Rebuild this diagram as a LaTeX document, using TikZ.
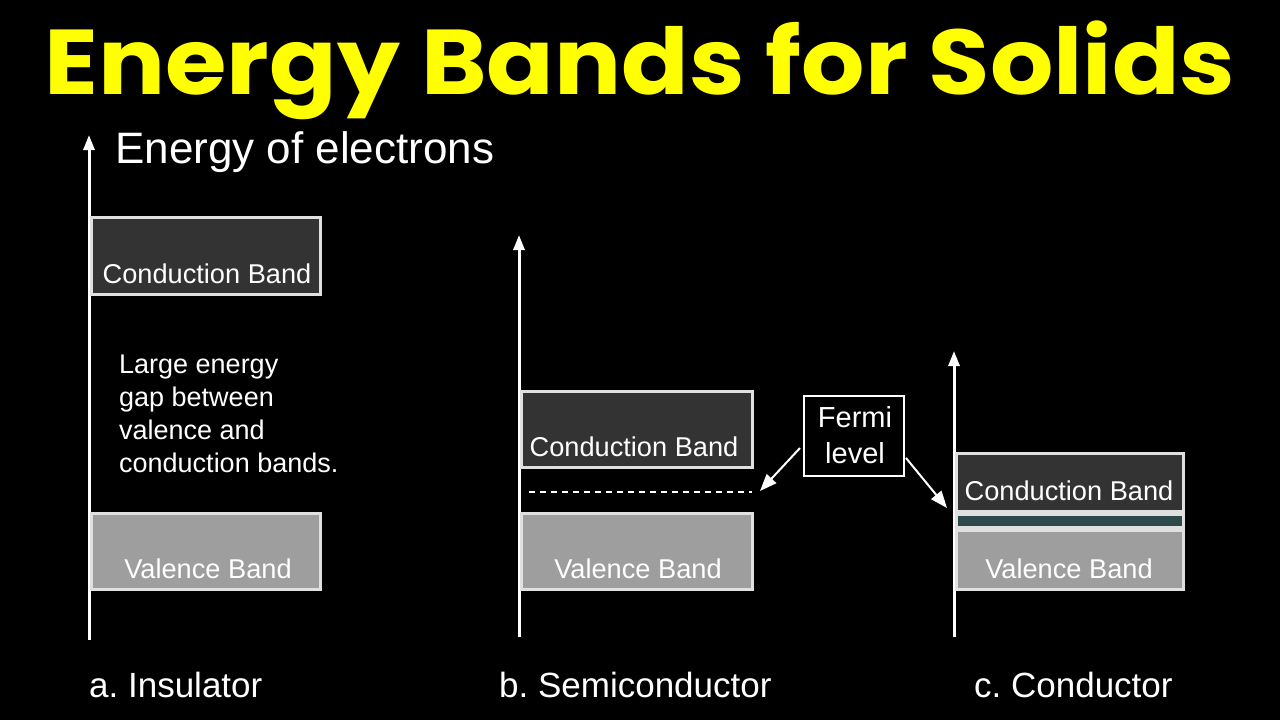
\documentclass[tikz,border=0pt]{standalone}
\usepackage{fontspec}
\setmainfont{Liberation Sans}
\newfontfamily\titlefont{Poppins}
\usetikzlibrary{arrows.meta}
\definecolor{cbfill}{HTML}{333333}
\definecolor{vbfill}{HTML}{9E9E9E}
\definecolor{edge}{HTML}{E0E0E0}
\definecolor{strip}{HTML}{2E4A4A}
\definecolor{ttl}{HTML}{FFFF00}
\tikzset{
  band/.style={draw=edge, line width=2.5pt, inner sep=0pt, outer sep=0pt},
  cband/.style={band, fill=cbfill},
  vband/.style={band, fill=vbfill},
  bandtxt/.style={text=white, font=\fontsize{27.2}{30}\selectfont, anchor=base, inner sep=0pt},
  axis/.style={draw=white, line width=3pt, -{Triangle[length=15pt,width=11pt]}},
  fermiarrow/.style={draw=white, line width=2pt, -{Triangle[length=17pt,width=13pt]}},
  caption/.style={text=white, font=\fontsize{35}{40}\selectfont, anchor=base west, inner sep=0pt},
}
\begin{document}
\begin{tikzpicture}[x=1pt,y=-1pt]
\fill[black] (0,0) rectangle (1280,720);
\useasboundingbox (0,0) rectangle (1280,720);

% title
\node[anchor=north, inner sep=0pt, text=ttl] (title) at (640,21)
  {\resizebox*{1190pt}{99pt}{\titlefont\bfseries Energy Bands for Solids}};

% axes
\coordinate (a0) at (89,640); \coordinate (a1) at (89,135);
\coordinate (b0) at (519,637); \coordinate (b1) at (519,235);
\coordinate (c0) at (954,637); \coordinate (c1) at (954,351);
\draw[axis] (a0) -- (a1);
\draw[axis] (b0) -- (b1);
\draw[axis] (c0) -- (c1);

\node[anchor=base west, inner sep=0pt, text=white, font=\fontsize{44}{50}\selectfont] (eoe) at (115,163) {Energy of electrons};

% insulator
\node[cband, minimum width=229pt, minimum height=77pt] (icb) at (206,256) {};
\node[bandtxt] (icbt) at (207,283) {Conduction Band};
\node[vband, minimum width=229pt, minimum height=76pt] (ivb) at (206,551.5) {};
\node[bandtxt] (ivbt) at (208,578) {Valence Band};
\node[anchor=base west, inner sep=0pt, text=white, align=left,
      font=\fontsize{27}{33}\selectfont] (gap) at (119,472)
  {Large energy\\gap between\\valence and\\conduction bands.};

% semiconductor
\node[cband, minimum width=231pt, minimum height=76pt] (scb) at (637,429.5) {};
\node[bandtxt] (scbt) at (634,456) {Conduction Band};
\node[vband, minimum width=231pt, minimum height=76pt] (svb) at (637,551.5) {};
\node[bandtxt] (svbt) at (638,578) {Valence Band};
\coordinate (d0) at (529,492); \coordinate (d1) at (752,492);
\draw[white, line width=2pt, dash pattern=on 6pt off 5pt] (d0) -- (d1);

% Fermi level
\node[draw=white, line width=2.5pt, fill=black, minimum width=100pt, minimum height=80pt,
      inner sep=0pt, outer sep=0pt] (fermi) at (854,436) {};
\node[anchor=base, inner sep=0pt, text=white, align=center,
      font=\fontsize{29}{36}\selectfont] (fermit) at (855,463) {Fermi\\level};
\coordinate (fs) at (760,491);
\coordinate (fc) at (947,508);
\draw[fermiarrow] ([xshift=-4pt,yshift=-12pt]fermi.west) -- (fs);
\draw[fermiarrow] ([xshift=2pt,yshift=-22pt]fermi.east) -- (fc);

% conductor
\node[cband, minimum width=227pt, minimum height=58pt] (ccb) at (1070,482.5) {};
\node[bandtxt] (ccbt) at (1069,500) {Conduction Band};
\node[band, fill=strip, minimum width=227pt, minimum height=13pt] (cst) at (1070,521) {};
\node[vband, minimum width=227pt, minimum height=59pt] (cvb) at (1070,560) {};
\node[bandtxt] (cvbt) at (1069,578) {Valence Band};

% captions
\node[caption] (ca) at (89,697) {a.\ Insulator};
\node[caption] (cb) at (499,697) {b.\ Semiconductor};
\node[caption] (cc) at (974,697) {c.\ Conductor};
\end{tikzpicture}
\end{document}
